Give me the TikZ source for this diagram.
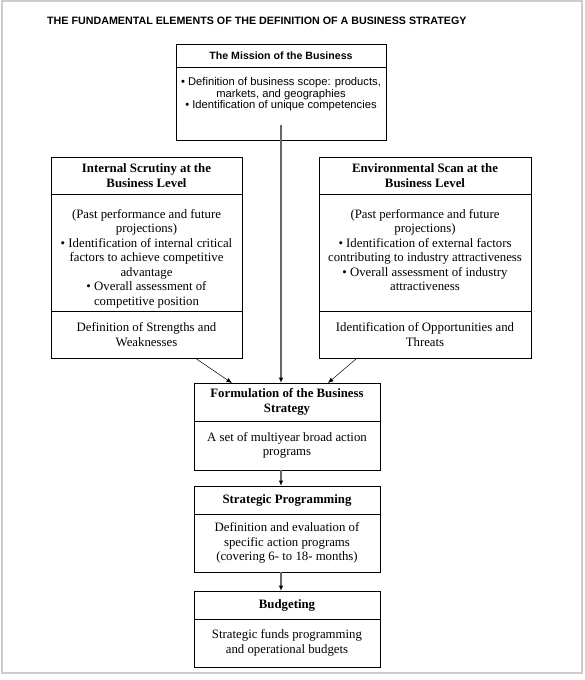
\documentclass[tikz,border=0pt]{standalone}
\usepackage{fontspec}
\setmainfont{Liberation Serif}
\setsansfont{Liberation Sans}
\usetikzlibrary{positioning,arrows.meta,calc}
\tikzset{
  box/.style={draw, line width=0.8pt, outer sep=0pt, inner sep=2pt, align=center,
    font=\fontsize{12.8}{14.5}\selectfont},
  headbox/.style={box, font=\fontsize{12.8}{14.5}\selectfont\bfseries},
  sansbox/.style={box, font=\sffamily\fontsize{11.2}{11.6}\selectfont},
  toptext/.style={anchor=north, align=center, inner sep=0pt, yshift=#1},
  flow/.style={draw=black!60, line width=1.1pt, -{Latex[length=5.5pt,width=4.5pt,color=black]}},
  feed/.style={line width=0.5pt, -{Latex[length=5.5pt,width=4.5pt]}}
}
\begin{document}
\begin{tikzpicture}[x=1pt,y=-1pt]
\useasboundingbox (0,0) rectangle (585,680);
\draw[black!20, line width=1.5pt] (2,1) rectangle (582,673);
\node[anchor=base west, inner sep=0pt, font=\sffamily\bfseries\fontsize{10.7}{12}\selectfont] (title) at (47,24)
  {THE FUNDAMENTAL ELEMENTS OF THE DEFINITION OF A BUSINESS STRATEGY};

\node[sansbox, font=\sffamily\bfseries\fontsize{10.6}{12}\selectfont, minimum width=210, minimum height=23, anchor=north] (mission) at (281,44)
  {The Mission of the Business};
\node[sansbox, minimum width=210, minimum height=73, below=0pt of mission,
  label={[toptext=-10pt, font=\sffamily\fontsize{11.2}{11.8}\selectfont]north:{• Definition of business scope: products,\\markets, and geographies\\• Identification of unique competencies}}] (missionbody) {};

\node[headbox, minimum width=191, minimum height=37, anchor=north] (internal) at (146.5,157)
  {Internal Scrutiny at the\\Business Level};
\node[box, minimum width=191, minimum height=117, below=0pt of internal,
  label={[toptext=-15pt, font=\fontsize{12.8}{14.5}\selectfont]north:{(Past performance and future\\projections)\\• Identification of internal critical\\factors to achieve competitive\\advantage\\• Overall assessment of\\competitive position}}] (internalbody) {};
\node[box, minimum width=191, minimum height=47, below=0pt of internalbody] (strengths)
  {Definition of Strengths and\\Weaknesses};

\node[headbox, minimum width=212, minimum height=37, anchor=north] (environment) at (425,157)
  {Environmental Scan at the\\Business Level};
\node[box, minimum width=212, minimum height=117, below=0pt of environment,
  label={[toptext=-15pt, font=\fontsize{12.8}{14.5}\selectfont]north:{(Past performance and future\\projections)\\• Identification of external factors\\contributing to industry attractiveness\\• Overall assessment of industry\\attractiveness}}] (environmentbody) {};
\node[box, minimum width=212, minimum height=47, below=0pt of environmentbody] (opportunities)
  {Identification of Opportunities and\\Threats};

\node[headbox, minimum width=186, minimum height=38, anchor=north] (formulation) at (287,383)
  {Formulation of the Business\\Strategy};
\node[box, minimum width=186, minimum height=49, below=0pt of formulation] (formulationbody)
  {A set of multiyear broad action\\programs};

\node[headbox, minimum width=186, minimum height=28, anchor=north] (programming) at (287,486)
  {Strategic Programming};
\node[box, minimum width=186, minimum height=58, below=0pt of programming] (programmingbody)
  {Definition and evaluation of\\specific action programs\\(covering 6- to 18- months)};

\node[headbox, minimum width=186, minimum height=28, anchor=north] (budgeting) at (287,591)
  {Budgeting};
\node[box, minimum width=186, minimum height=48, below=0pt of budgeting] (budgetingbody)
  {Strategic funds programming\\and operational budgets};

\coordinate (mstart) at (281,125);
\draw[flow] (mstart) -- (mstart |- formulation.north);
\draw[flow] (mstart |- formulationbody.south) -- (mstart |- programming.north);
\draw[flow] (mstart |- programmingbody.south) -- (mstart |- budgeting.north);
\draw[feed] ($(strengths.south west)!0.754!(strengths.south east)$) -- ($(formulation.north west)!0.204!(formulation.north east)$);
\draw[feed] ($(opportunities.south west)!0.18!(opportunities.south east)$) -- ($(formulation.north west)!0.72!(formulation.north east)$);
\end{tikzpicture}
\end{document}
